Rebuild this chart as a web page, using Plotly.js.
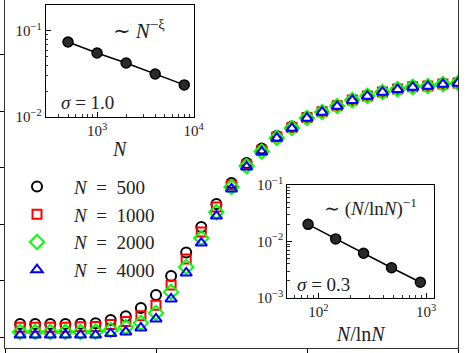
<!DOCTYPE html>
<html>
<head>
<meta charset="utf-8">
<script src="https://cdn.plot.ly/plotly-3.0.1.min.js"></script>
<style>html,body{margin:0;padding:0;background:#fff;}#plot{width:474px;height:353px;}</style>
</head>
<body>
<div id="plot"></div>
<script>
// ---- main panel data ----
const xMain = [0.1,0.2,0.3,0.4,0.5,0.6,0.7,0.8,0.9,1.0,1.1,1.2,1.3,1.4,1.5,1.6,1.7,1.8,1.9,2.0,2.1,2.2,2.3,2.4,2.5,2.6,2.7,2.8,2.9,3.0];
const y500  = [0.046,0.046,0.046,0.046,0.047,0.049,0.060,0.074,0.103,0.149,0.216,0.300,0.390,0.472,0.546,0.617,0.668,0.713,0.746,0.779,0.800,0.821,0.841,0.856,0.870,0.880,0.888,0.891,0.898,0.902];
const y1000 = [0.035,0.035,0.035,0.035,0.036,0.037,0.044,0.055,0.075,0.113,0.184,0.277,0.372,0.461,0.539,0.611,0.662,0.709,0.743,0.778,0.799,0.820,0.840,0.855,0.869,0.879,0.887,0.890,0.897,0.901];
const y2000 = [0.018,0.018,0.018,0.018,0.018,0.019,0.025,0.035,0.050,0.085,0.160,0.248,0.351,0.443,0.532,0.606,0.658,0.706,0.741,0.777,0.798,0.819,0.840,0.855,0.869,0.879,0.887,0.890,0.897,0.901];
const y4000 = [0.007,0.007,0.007,0.007,0.007,0.007,0.012,0.018,0.032,0.064,0.135,0.227,0.333,0.429,0.525,0.603,0.656,0.705,0.740,0.776,0.797,0.818,0.839,0.854,0.868,0.878,0.886,0.889,0.896,0.900];
const legendLabels = ['<i>N</i>\u2002=\u2002500','<i>N</i>\u2002=\u20021000','<i>N</i>\u2002=\u20022000','<i>N</i>\u2002=\u20024000'];
const mainTicksX = [0,1,2,3];
const mainTicksY = [0,0.2,0.4,0.6,0.8,1.0];

// ---- inset 1 (sigma = 1.0) ----
const nInset1 = [500,1000,2000,4000,8000];
const yInset1 = [0.0745,0.0555,0.0424,0.0316,0.0236];
// ---- inset 2 (sigma = 0.3) ----
const nlnInset2 = [80.4,145,263,478,885];
const yInset2 = [0.0201,0.0111,0.00618,0.00343,0.0019];

const serif = 'Liberation Serif, DejaVu Serif, serif';

function openTrace(y, name, symbol, color, size){
  return {x:xMain, y:y, type:'scatter', mode:'markers', name:name, legendgroup:name,
    marker:{symbol:symbol, size:size, color:color, line:{color:color, width:2}},
    xaxis:'x', yaxis:'y', cliponaxis:true};
}
const traces = [
  openTrace(y500, legendLabels[0], 'circle-open', '#000000', 10),
  openTrace(y1000, legendLabels[1], 'square-open', '#ff0000', 9),
  openTrace(y2000, legendLabels[2], 'diamond-open', '#00ff00', 11),
  openTrace(y4000, legendLabels[3], 'triangle-up-open', '#0000ff', 10),
  {x:nInset1, y:yInset1, type:'scatter', mode:'lines+markers', showlegend:false,
   line:{color:'#000', width:1.5}, marker:{symbol:'circle', size:10, color:'#2a2a2a', line:{color:'#000', width:1.5}},
   xaxis:'x2', yaxis:'y2'},
  {x:nlnInset2, y:yInset2, type:'scatter', mode:'lines+markers', showlegend:false,
   line:{color:'#000', width:1.5}, marker:{symbol:'circle', size:10, color:'#2a2a2a', line:{color:'#000', width:1.5}},
   xaxis:'x3', yaxis:'y3'}
];

const logMinor1 = [300,400,500,600,700,800,900,2000,3000,4000,5000,6000,7000,8000,9000];
const logMinorY1 = [0.02,0.03,0.04,0.05,0.06,0.07,0.08,0.09,0.2];
const logMinor2 = [60,70,80,90,200,300,400,500,600,700,800,900];
const logMinorY2 = [0.002,0.003,0.004,0.005,0.006,0.007,0.008,0.009,0.02,0.03,0.04,0.05,0.06,0.07,0.08,0.09];

const insetAxis = (extra) => Object.assign({
  showline:true, linecolor:'#000', linewidth:1.2, mirror:true, showgrid:false, zeroline:false,
  ticks:'inside', ticklen:5, tickwidth:1, tickcolor:'#000',
  tickfont:{family:serif, size:15, color:'#222'}
}, extra);
const minorStyle = (vals) => ({tickvals:vals, ticks:'inside', ticklen:2.5, tickwidth:0.8, tickcolor:'#000', showgrid:false});

const annFont = {family:serif, size:19, color:'#222'};

const layout = {
  width:474, height:353,
  margin:{l:4, r:16, t:0, b:5, pad:0},
  paper_bgcolor:'#fff', plot_bgcolor:'rgba(0,0,0,0)',
  showlegend:true,
  legend:{x:-0.01, y:0.518, xanchor:'left', yanchor:'top', bgcolor:'rgba(0,0,0,0)',
    font:{family:serif, size:19, color:'#222'}, traceorder:'grouped', tracegroupgap:0, itemwidth:64},
  xaxis:{domain:[0,1], range:[0,3], tickvals:mainTicksX, showticklabels:false, ticks:'outside', ticklen:5,
    tickcolor:'#000', showline:true, linecolor:'#333', linewidth:1.2, mirror:false, showgrid:false, zeroline:false},
  yaxis:{domain:[0,1], range:[-0.039,1.195], tickvals:mainTicksY, showticklabels:false, ticks:'outside', ticklen:4,
    tickcolor:'#000', showline:true, linecolor:'#333', linewidth:1.2, mirror:true, showgrid:false, zeroline:false},
  xaxis2: insetAxis({type:'log', domain:[0.0903,0.4163], anchor:'y2', range:[2.47,4.0],
    tickvals:[1000,10000], ticktext:['10<sup>3</sup>','10<sup>4</sup>'], minor:minorStyle(logMinor1),
    title:{text:'<i>N</i>', font:{family:serif, size:20, color:'#222'}, standoff:3}}),
  yaxis2: insetAxis({type:'log', domain:[0.6638,0.9856], anchor:'x2', range:[-2,-0.698],
    tickvals:[0.01,0.1], ticktext:['10<sup>−2</sup>','10<sup>−1</sup>'], minor:minorStyle(logMinorY1)}),
  xaxis3: insetAxis({type:'log', domain:[0.6233,0.9471], anchor:'y3', range:[1.713,3.074],
    tickvals:[100,1000], ticktext:['10<sup>2</sup>','10<sup>3</sup>'], minor:minorStyle(logMinor2),
    title:{text:'<i>N</i>/ln<i>N</i>', font:{family:serif, size:20, color:'#222'}, standoff:7}}),
  yaxis3: insetAxis({type:'log', domain:[0.1437,0.4684], anchor:'x3', range:[-3,-1],
    tickvals:[0.001,0.01,0.1], ticktext:['10<sup>−3</sup>','10<sup>−2</sup>','10<sup>−1</sup>'], minor:minorStyle(logMinorY2)}),
  shapes:[
    {type:'rect', xref:'x2 domain', yref:'y2 domain', x0:0, x1:1, y0:0, y1:1, fillcolor:'#fff', line:{width:0}, layer:'below'},
    {type:'rect', xref:'x3 domain', yref:'y3 domain', x0:0, x1:1, y0:0, y1:1, fillcolor:'#fff', line:{width:0}, layer:'below'}
  ],
  annotations:[
    {xref:'x2 domain', yref:'y2 domain', x:0.63, y:0.785, xanchor:'center', yanchor:'middle',
     text:'∼ <i>N</i><sup>−ξ</sup>', showarrow:false, font:{family:serif, size:21, color:'#222'}},
    {xref:'x2 domain', yref:'y2 domain', x:0.28, y:0.125, xanchor:'center', yanchor:'middle',
     text:'<i>σ</i> = 1.0', showarrow:false, font:annFont},
    {xref:'x3 domain', yref:'y3 domain', x:0.57, y:0.80, xanchor:'center', yanchor:'middle',
     text:'∼ (<i>N</i>/ln<i>N</i>)<sup>−1</sup>', showarrow:false, font:annFont},
    {xref:'x3 domain', yref:'y3 domain', x:0.245, y:0.115, xanchor:'center', yanchor:'middle',
     text:'<i>σ</i> = 0.3', showarrow:false, font:annFont}
  ]
};

Plotly.newPlot('plot', traces, layout, {displayModeBar:false, staticPlot:true});
</script>
</body>
</html>
